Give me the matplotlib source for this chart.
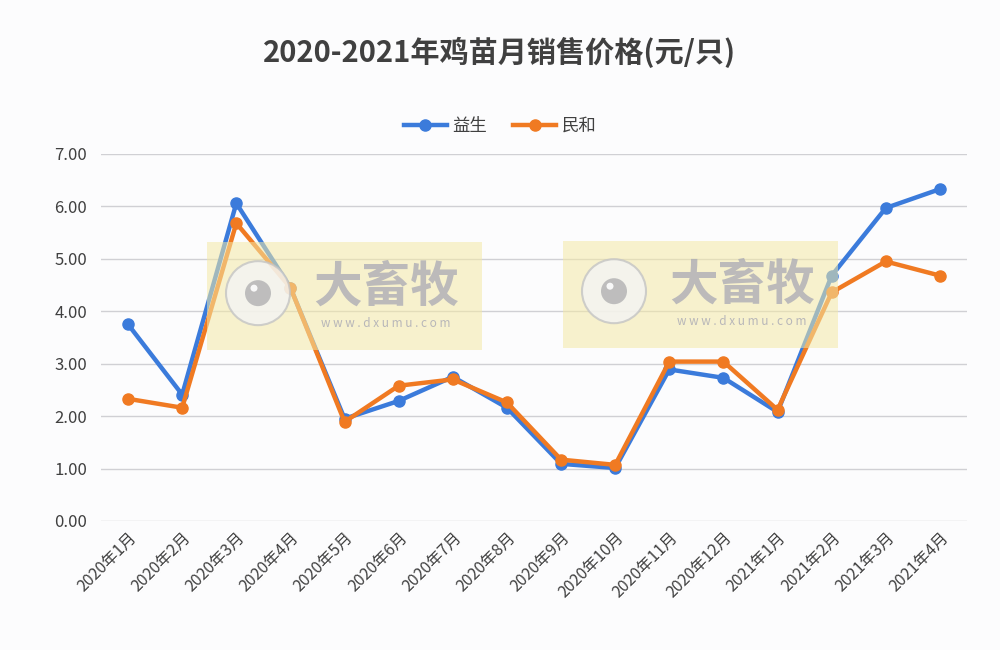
import matplotlib.pyplot as plt
from matplotlib.patches import Rectangle, Circle

plt.rcParams['font.family'] = ['Noto Sans CJK SC', 'DejaVu Sans']

months = ['2020年1月', '2020年2月', '2020年3月', '2020年4月', '2020年5月', '2020年6月',
          '2020年7月', '2020年8月', '2020年9月', '2020年10月', '2020年11月', '2020年12月',
          '2021年1月', '2021年2月', '2021年3月', '2021年4月']
yisheng = [3.75, 2.41, 6.06, 4.45, 1.95, 2.29, 2.75, 2.16, 1.09, 1.01, 2.89, 2.73, 2.08, 4.68, 5.97, 6.33]
minhe = [2.33, 2.16, 5.68, 4.45, 1.89, 2.58, 2.70, 2.26, 1.17, 1.07, 3.04, 3.04, 2.12, 4.36, 4.95, 4.68]
yticks = [0, 1, 2, 3, 4, 5, 6, 7]

bg = '#fcfcfd'
W, H = 10, 6.5
fig = plt.figure(figsize=(W, H), dpi=100, facecolor=bg)
ax = fig.add_axes([0.101, 0.1985, 0.866, 0.5646], facecolor=bg)

x = range(len(months))
ax.plot(x, yisheng, color='#3b7bdb', lw=3.2, marker='o', ms=8, label='益生', zorder=3)
ax.plot(x, minhe, color='#f07a22', lw=3.2, marker='o', ms=8, label='民和', zorder=4)

ax.set_xlim(-0.5, len(months) - 0.5)
ax.set_ylim(0, 7)
ax.set_yticks(yticks)
ax.set_yticklabels(['%.2f' % v for v in yticks], fontsize=12, color='#404040')
ax.set_xticks(list(x))
ax.set_xticklabels(months, rotation=45, ha='right', rotation_mode='anchor',
                   fontsize=11.5, color='#404040')
ax.grid(axis='y', color='#d0d0d4', lw=1)
ax.set_axisbelow(True)
ax.tick_params(length=0, pad=10)
ax.tick_params(axis='x', pad=6)
for s in ax.spines.values():
    s.set_visible(False)

fig.text(0.5, 0.92, '2020-2021年鸡苗月销售价格(元/只)', ha='center', va='center',
         fontsize=21, fontweight='bold', color='#404040')
leg = fig.legend(loc='center', bbox_to_anchor=(0.5, 0.806), ncol=2, frameon=False,
                 fontsize=12.5, handlelength=2.5, columnspacing=1.5, handletextpad=0.3)
for t in leg.get_texts():
    t.set_color('#404040')

# watermark boxes
for x0, y0 in [(0.207, 0.462), (0.563, 0.465)]:
    fig.patches.append(Rectangle((x0, y0), 0.275, 0.165, transform=fig.transFigure,
                                 facecolor='#f3e9a6', alpha=0.55, edgecolor='none', zorder=5))
    cx, cy = (x0 + 0.051) * W, (y0 + 0.087) * H
    fig.patches.append(Circle((cx, cy), 0.32, transform=fig.dpi_scale_trans,
                              facecolor='#f4f4f4', edgecolor='#c4c4c4', lw=1.5, alpha=0.8, zorder=5))
    fig.patches.append(Circle((cx, cy), 0.13, transform=fig.dpi_scale_trans,
                              facecolor='#b8b8b8', edgecolor='none', alpha=0.9, zorder=6))
    fig.patches.append(Circle((cx - 0.04, cy + 0.05), 0.035, transform=fig.dpi_scale_trans,
                              facecolor='white', edgecolor='none', alpha=0.9, zorder=7))
    fig.text(x0 + 0.179, y0 + 0.096, '大畜牧', ha='center', va='center', fontsize=35,
             fontweight='bold', color='#a8a8b4', alpha=0.75, zorder=6)
    fig.text(x0 + 0.179, y0 + 0.041, 'w w w . d x u m u . c o m', ha='center', va='center',
             fontsize=8.5, color='#a8a8b4', alpha=0.8, zorder=6)

fig.savefig('out.png', dpi=100, facecolor=bg)
